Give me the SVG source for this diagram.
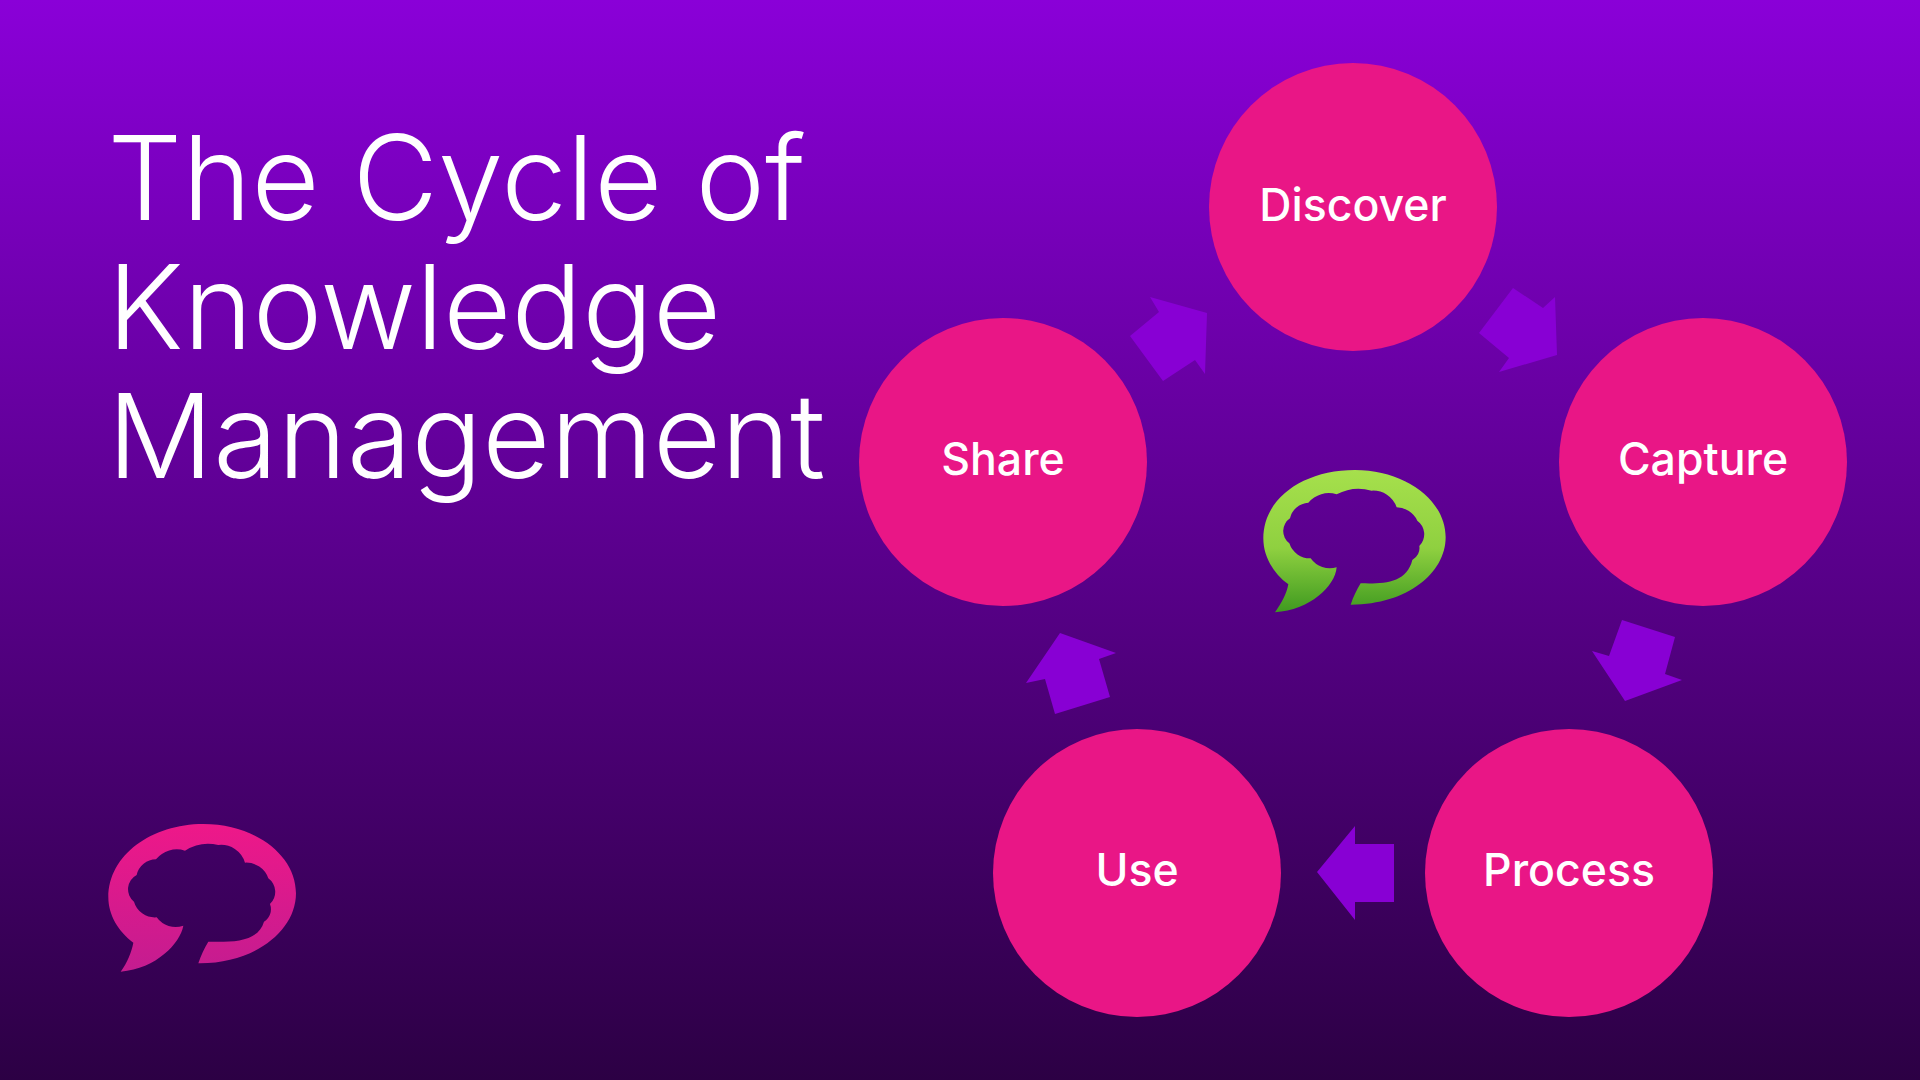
<svg xmlns="http://www.w3.org/2000/svg" width="1920" height="1080" viewBox="0 0 1920 1080">
<defs>
<linearGradient id="bg" x1="0" y1="0" x2="0" y2="1"><stop offset="0" stop-color="#8a00d8"/><stop offset="1" stop-color="#2c0044"/></linearGradient>
<linearGradient id="green" x1="0" y1="0" x2="0" y2="1"><stop offset="0" stop-color="#a6e04c"/><stop offset="0.55" stop-color="#8fd040"/><stop offset="1" stop-color="#3f9a20"/></linearGradient>
<linearGradient id="pink" x1="0" y1="0" x2="0" y2="1"><stop offset="0" stop-color="#ee1889"/><stop offset="1" stop-color="#c41c90"/></linearGradient>
</defs>
<style>
.node{fill:#e91686}
.label{font-family:Inter,"Liberation Sans",sans-serif;font-size:44.6px;font-weight:500;fill:#fff;text-anchor:middle}
.title{font-family:Inter,"Liberation Sans",sans-serif;font-size:117.5px;font-weight:300;fill:#fff}
.arrow{fill:#8800d4}
</style>
<rect width="1920" height="1080" fill="url(#bg)"/>
<text class="title" x="107.5" y="220">The Cycle of</text>
<text class="title" x="107.5" y="349">Knowledge</text>
<text class="title" x="107.5" y="478">Management</text>
<g id="connectors">
<polygon class="arrow" points="1513,288 1543,308 1555,297 1557,355 1499,372 1509,358 1479,333"/>
<polygon class="arrow" points="1622,620 1675,637 1665,674 1682,680 1625,701 1592,651 1609,656"/>
<polygon class="arrow" points="1394,844 1355,844 1355,826 1317,872 1355,920 1355,902 1394,902"/>
<polygon class="arrow" points="1110,697 1055,714 1045,679 1026,683 1060,633 1116,653 1099,659"/>
<polygon class="arrow" points="1163,381 1130,336 1159,312 1150,297 1207,313 1205,374 1195,360"/>
</g>
<g id="discover"><circle class="node" cx="1353" cy="207" r="144"/><text class="label" x="1353" y="221">Discover</text></g>
<g id="capture"><circle class="node" cx="1703" cy="462" r="144"/><text class="label" x="1703" y="475">Capture</text></g>
<g id="process"><circle class="node" cx="1569" cy="873" r="144"/><text class="label" x="1569" y="886">Process</text></g>
<g id="use"><circle class="node" cx="1137" cy="873" r="144"/><text class="label" x="1137" y="886">Use</text></g>
<g id="share"><circle class="node" cx="1003" cy="462" r="144"/><text class="label" x="1003" y="475">Share</text></g>
<g id="logo-green" transform="translate(1240 450) scale(0.3333)"><path fill="url(#green)" d="M105,487 C125,460 140,430 145,403 C100,370 70,320 70,265 C70,145 190,60 345,60 C495,60 617,150 617,262 C617,370 500,465 332,464 C340,440 350,420 362,400 C430,402 500,400 517,330 A40,40 0 0 0 538,288 A50,50 0 0 0 532,212 A70,70 0 0 0 470,172 A75,75 0 0 0 395,122 A140,140 0 0 0 290,133 A80,80 0 0 0 205,158 A60,60 0 0 0 150,205 A46,46 0 0 0 148,280 A65,65 0 0 0 212,325 A70,70 0 0 0 290,352 C285,410 210,480 105,487 Z"/></g>
<g id="logo-pink" transform="translate(90 810) scale(0.3333)"><path fill="url(#pink)" d="M92,485 C112,458 125,425 130,398 C85,365 55,315 55,262 C55,135 185,42 340,42 C495,42 618,135 618,250 C618,365 490,462 325,460 C333,435 343,415 355,395 C430,397 505,395 522,335 A44,44 0 0 0 540,282 A50,50 0 0 0 535,205 A70,70 0 0 0 465,158 A75,75 0 0 0 385,105 A130,130 0 0 0 285,122 A80,80 0 0 0 198,148 A60,60 0 0 0 140,195 A48,48 0 0 0 132,275 A65,65 0 0 0 200,322 A70,70 0 0 0 280,347 C270,400 200,475 92,485 Z"/></g>
</svg>
